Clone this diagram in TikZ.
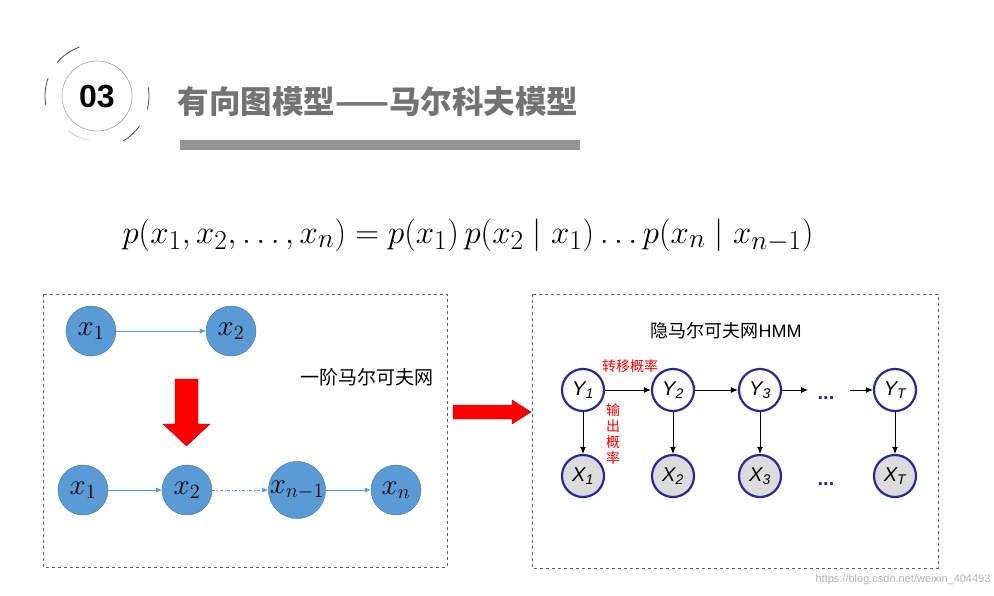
\documentclass[tikz,border=0pt]{standalone}
\usepackage{fontspec}
\setsansfont{Liberation Sans}
\newfontfamily\cjk{Noto Sans CJK SC}
\usetikzlibrary{arrows.meta}
\newcommand{\bx}[1]{\scalebox{1.4}{$#1$}}
\begin{document}
\begin{tikzpicture}[x=1pt,y=-1pt,
  bnode/.style={circle,fill={rgb,255:red,91;green,155;blue,213},draw={rgb,255:red,65;green,113;blue,156},minimum size=50pt,inner sep=0pt,font=\fontsize{20.74}{20.74}\selectfont},
  barrow/.style={-{Latex[length=6pt,width=5pt]},draw={rgb,255:red,91;green,155;blue,213},thin},
  ynode/.style={circle,draw={rgb,255:red,40;green,40;blue,150},line width=2.2pt,fill=white,minimum size=42pt,inner sep=0pt,font=\sffamily\itshape\fontsize{20}{20}\selectfont},
  xnode/.style={ynode,fill={rgb,255:red,220;green,220;blue,220}},
  karrow/.style={-{Latex[length=7pt,width=6pt]},line width=0.9pt},
  box/.style={draw=gray!70!blue,dashed,line width=0.6pt}]
\useasboundingbox (0,0) rectangle (994,595);
% title
\draw[gray!70,line width=0.6pt] (97,96) circle (35);
\draw[black!70,line width=0.8pt] (97,96) ++(60:52) arc (60:35:52);
\draw[black!70,line width=0.8pt] (97,96) ++(15:52) arc (15:-10:52);
\draw[black!70,line width=0.8pt] (97,96) ++(-110:52) arc (-110:-140:52);
\draw[black!70,line width=0.8pt] (97,96) ++(170:52) arc (170:200:52);
\draw[gray!50,line width=0.5pt] (97,96) ++(100:45) arc (100:130:45);
\node (num) at (97,97) {\sffamily\bfseries\fontsize{32}{32}\selectfont 03};
\node[anchor=west,text=gray!90!black,font=\cjk\bfseries\fontsize{31.5}{31.5}\selectfont] (title) at (174,102) {有向图模型——马尔科夫模型};
\fill[gray!85] (180,140) rectangle (580,150);
% formula
\node (formula) at (468,235) {\fontsize{24.88}{24.88}\selectfont\scalebox{1.32}{$p(x_1,x_2,\ldots,x_n)=p(x_1)\,p(x_2\mid x_1)\ldots p(x_n\mid x_{n-1})$}};
% left box
\draw[box] (43,294) rectangle (447,567);
\node[bnode] (a1) at (91,331) {\bx{x_1}};
\node[bnode] (a2) at (231,331) {\bx{x_2}};
\draw[barrow] (a1) -- (a2);
\node[font=\cjk\fontsize{19}{19}\selectfont] (lab1) at (367,377) {一阶马尔可夫网};
\fill[red,draw=red!60!black,line width=0.4pt] (175,379) -- (198,379) -- (198,424) -- (210,424) -- (186.5,446) -- (163,424) -- (175,424) -- cycle;
\node[bnode] (b1) at (83,490) {\bx{x_1}};
\node[bnode] (b2) at (187,490) {\bx{x_2}};
\node[bnode] (b3) at (297,490) {\bx{x_{n-1}}};
\node[bnode] (b4) at (396,490) {\bx{x_n}};
\draw[barrow] (b1) -- (b2);
\draw[barrow,dash dot] (b2) -- (b3);
\draw[barrow] (b3) -- (b4);
% middle arrow
\fill[red,draw=red!60!black,line width=0.4pt] (453,405) -- (512,405) -- (512,400) -- (531,412) -- (512,424) -- (512,419) -- (453,419) -- cycle;
% right box
\draw[box] (532,294) rectangle (938,568);
\node[font=\cjk\fontsize{18}{18}\selectfont] (lab2) at (726,331) {隐马尔可夫网\sffamily HMM};
\node[ynode] (y1) at (583,390) {Y\textsubscript{1}};
\node[ynode] (y2) at (673,390) {Y\textsubscript{2}};
\node[ynode] (y3) at (760,390) {Y\textsubscript{3}};
\node[ynode] (yt) at (895,390) {Y\textsubscript{T}};
\node[xnode] (x1) at (583,476) {X\textsubscript{1}};
\node[xnode] (x2) at (673,476) {X\textsubscript{2}};
\node[xnode] (x3) at (760,476) {X\textsubscript{3}};
\node[xnode] (xt) at (895,476) {X\textsubscript{T}};
\coordinate (d1) at (808,390);
\coordinate (d2) at (850,390);
\draw[karrow] (y1) -- (y2);
\draw[karrow] (y2) -- (y3);
\draw[karrow] (y3) -- (d1);
\draw[karrow] (d2) -- (yt);
\foreach \i in {1,2,3,t} \draw[karrow] (y\i) -- (x\i);
\node[text={rgb,255:red,40;green,40;blue,150}] (dots1) at (826,398) {\sffamily\bfseries\fontsize{20}{20}\selectfont ...};
\node[text={rgb,255:red,40;green,40;blue,150}] (dots2) at (826,484) {\sffamily\bfseries\fontsize{20}{20}\selectfont ...};
\node[text=red,font=\cjk\fontsize{14}{14}\selectfont] (tr) at (630,366) {转移概率};
\node[text=red,align=center,font=\cjk\fontsize{14}{16}\selectfont] (em) at (613,434) {输\\出\\概\\率};
\node[anchor=east,text=gray!60] (wm) at (994,580) {\sffamily\fontsize{11}{11}\selectfont https://blog.csdn.net/weixin\_404493};
\end{tikzpicture}
\end{document}
